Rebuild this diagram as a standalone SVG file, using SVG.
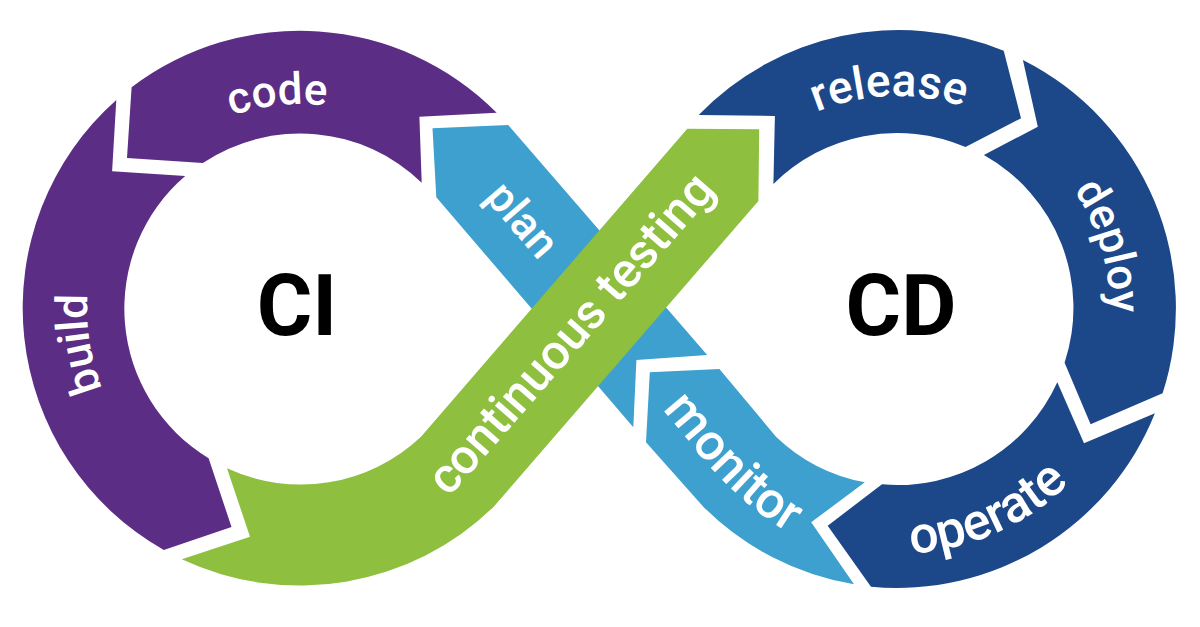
<svg xmlns="http://www.w3.org/2000/svg" width="1200" height="627" viewBox="0 0 1200 627">
<style>
.purple{fill:#5b2d84}.navy{fill:#1c4788}.sky{fill:#3da0ce}.green{fill:#8ebf3f}
.lbl{font-family:Roboto,"Liberation Sans",sans-serif;font-weight:500;font-size:44px;fill:#fff;text-anchor:middle}
.hub{font-family:Roboto,"Liberation Sans",sans-serif;font-weight:700;font-size:85px;fill:#000;text-anchor:middle}
</style>
<defs>
<path id="arcL" d="M95 309A205 205 0 0 1 505 309"/>
<path id="arcBuild" d="M87 309A213 213 0 0 1 513 309"/>
<path id="arcR" d="M684 309A213 213 0 0 1 1110 309"/>
<path id="arcOp" d="M652 309A245 245 0 0 0 1142 309"/>
<path id="pPlan" d="M474 186L549 273"/>
<path id="pTest" d="M416 514C441 504 453 494 468 476L740 164"/>
<path id="pMon" d="M648 392L678 428C713 473 748 512 808 544"/>
</defs>
<rect width="1200" height="627" fill="#fff"/>
<g id="connectors"/>
<g id="build">
<path class="purple" d="M116.3 100A278 278 0 0 0 163.8 550L231.5 527L208.6 458.3A175 175 0 0 1 185.2 176L112.1 171.3Z"/>
<text class="lbl" transform="rotate(-99 300 309)"><textPath href="#arcBuild" startOffset="50%">build</textPath></text>
</g>
<g id="code">
<path class="purple" d="M131.6 87.3A278 278 0 0 1 496.7 112.7L419.4 116.7L421.7 182.7A175 175 0 0 0 202.8 163L127 158Z"/>
<text class="lbl" transform="rotate(-6 300 309)"><textPath href="#arcL" startOffset="50%">code</textPath></text>
</g>
<g id="plan">
<path class="sky" d="M432.5 128.3L508.2 125L707.2 355L636.4 360L633.3 427.3L436.3 197.3Z"/>
<text class="lbl"><textPath href="#pPlan" startOffset="50%">plan</textPath></text>
</g>
<g id="continuous-testing">
<path class="green" d="M181.8 559.3A278 278 0 0 0 493.7 506.7L758.4 201L759.2 129.3L687.3 128.7L421 436.7A175 175 0 0 1 227 468.3L250 536.7Z"/>
<text class="lbl" style="font-size:49px"><textPath href="#pTest" startOffset="50%">continuous testing</textPath></text>
</g>
<g id="release">
<path class="navy" d="M698.7 115A278 278 0 0 1 1003.7 50.7L1021 118.3L965.5 147A175 175 0 0 0 773.4 184L774.9 116Z"/>
<text class="lbl" style="font-size:46px" transform="rotate(-2 897 309)"><textPath href="#arcR" startOffset="50%">release</textPath></text>
</g>
<g id="deploy">
<path class="navy" d="M1022.9 60A278 278 0 0 1 1162.6 393.3L1090.6 424.3L1064.6 362.7A175 175 0 0 0 983.9 155L1037.8 126.7Z"/>
<text class="lbl" transform="rotate(73.5 897 309)"><textPath href="#arcR" startOffset="50%">deploy</textPath></text>
</g>
<g id="operate">
<path class="navy" d="M1154.9 413.3A278 278 0 0 1 871 586.7L827.7 525.7L882 484.3A175 175 0 0 0 1057.3 382.3L1084 443.3Z"/>
<text class="lbl" style="font-size:52px" transform="rotate(-24 897 309)"><textPath href="#arcOp" startOffset="50%">operate</textPath></text>
</g>
<g id="monitor">
<path class="sky" d="M649.8 372.3L719.4 369L776 436.7A175 175 0 0 0 864.8 482.3L811.2 522.3L854 584.3A278 278 0 0 1 703.3 506.7L646 442.3Z"/>
<text class="lbl" style="font-size:51px"><textPath href="#pMon" startOffset="50%">monitor</textPath></text>
</g>
<g id="ci"><text class="hub" x="297" y="335">CI</text></g>
<g id="cd"><text class="hub" x="901" y="335">CD</text></g>
</svg>
